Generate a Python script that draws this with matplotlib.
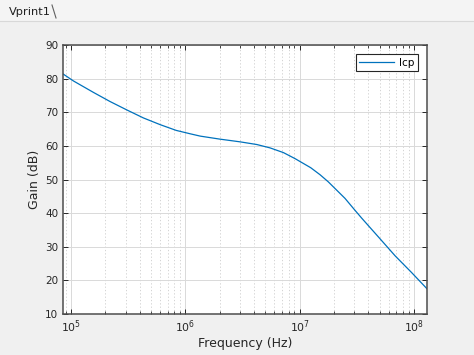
import matplotlib
matplotlib.use("Agg")
import matplotlib.pyplot as plt
from matplotlib.lines import Line2D
from matplotlib.patches import Rectangle

# Frequenzgang Icp
freq_hz = [8.5e4, 1.05e5, 1.57e5, 2.19e5, 3.07e5, 4.30e5, 6.03e5, 8.32e5,
           1.10e6, 1.35e6, 2.01e6, 3.01e6, 4.22e6, 5.51e6, 7.21e6, 9.12e6,
           1.25e7, 1.51e7, 1.78e7, 2.49e7, 3.02e7, 3.49e7, 4.89e7, 6.84e7,
           9.55e7, 1.30e8]
gain_db = [81.4, 79.3, 75.9, 73.2, 70.7, 68.3, 66.3, 64.6,
           63.6, 62.9, 62.0, 61.2, 60.4, 59.4, 58.0, 56.2,
           53.5, 51.4, 49.3, 44.4, 41.0, 38.5, 32.9, 27.3,
           22.3, 17.5]
series_name = "Icp"
tab_title = "Vprint1"
y_ticks = [10, 20, 30, 40, 50, 60, 70, 80, 90]

W, H = 474, 355
fig = plt.figure(figsize=(W / 100, H / 100), dpi=100, facecolor="#f0f0f0")

# Reiter oben links
fig.add_artist(Rectangle((0, 1 - 20.5 / H), 1, 20.5 / H, transform=fig.transFigure,
                         facecolor="#f4f4f4", edgecolor="none", zorder=0))
fig.text(9 / W, 1 - 12 / H, tab_title, fontsize=8.2, color="#202020",
         va="center", ha="left")
fig.add_artist(Line2D([52 / W, 56 / W], [1 - 5 / H, 1 - 18 / H],
                      color="#606060", lw=0.8))
fig.add_artist(Line2D([0, 1], [1 - 20.5 / H, 1 - 20.5 / H],
                      color="#d8d8d8", lw=0.8))

ax = fig.add_axes([63 / W, 1 - 314 / H, (427 - 63) / W, (314 - 45) / H])
ax.set_facecolor("white")
ax.plot(freq_hz, gain_db, color="#0072BD", lw=0.9, label=series_name)

ax.set_xscale("log")
ax.set_xlim(8.5e4, 1.3e8)
ax.set_ylim(10, 90)
ax.set_yticks(y_ticks)

ax.grid(True, which="major", color="#d9d9d9", lw=0.7, ls="-")
ax.grid(True, which="minor", axis="x", color="#cccccc", lw=0.6, ls=(0, (1.5, 2.5)))
ax.set_axisbelow(True)

for s in ax.spines.values():
    s.set_color("#4d4d4d")
    s.set_linewidth(1.1)
ax.tick_params(which="both", direction="in", top=True, right=True,
               colors="#262626", labelsize=7.5, labelcolor="#262626")
ax.tick_params(axis="x", which="major", labelsize=7.8)
ax.tick_params(which="major", length=3.5, width=0.7)
ax.tick_params(which="minor", length=2, width=0.6)

ax.set_xlabel("Frequency (Hz)", fontsize=9, color="#262626", labelpad=1)
ax.set_ylabel("Gain (dB)", fontsize=9, color="#262626", labelpad=3)

leg = ax.legend(loc="upper right", bbox_to_anchor=(1 - 9 / 364, 1 - 9 / 269),
                borderaxespad=0, fontsize=7.5, handlelength=3.3,
                handletextpad=0.5, fancybox=False, framealpha=1,
                edgecolor="#262626", borderpad=0.35)
leg.get_frame().set_linewidth(0.8)

fig.savefig("out.png", dpi=100, facecolor=fig.get_facecolor())
